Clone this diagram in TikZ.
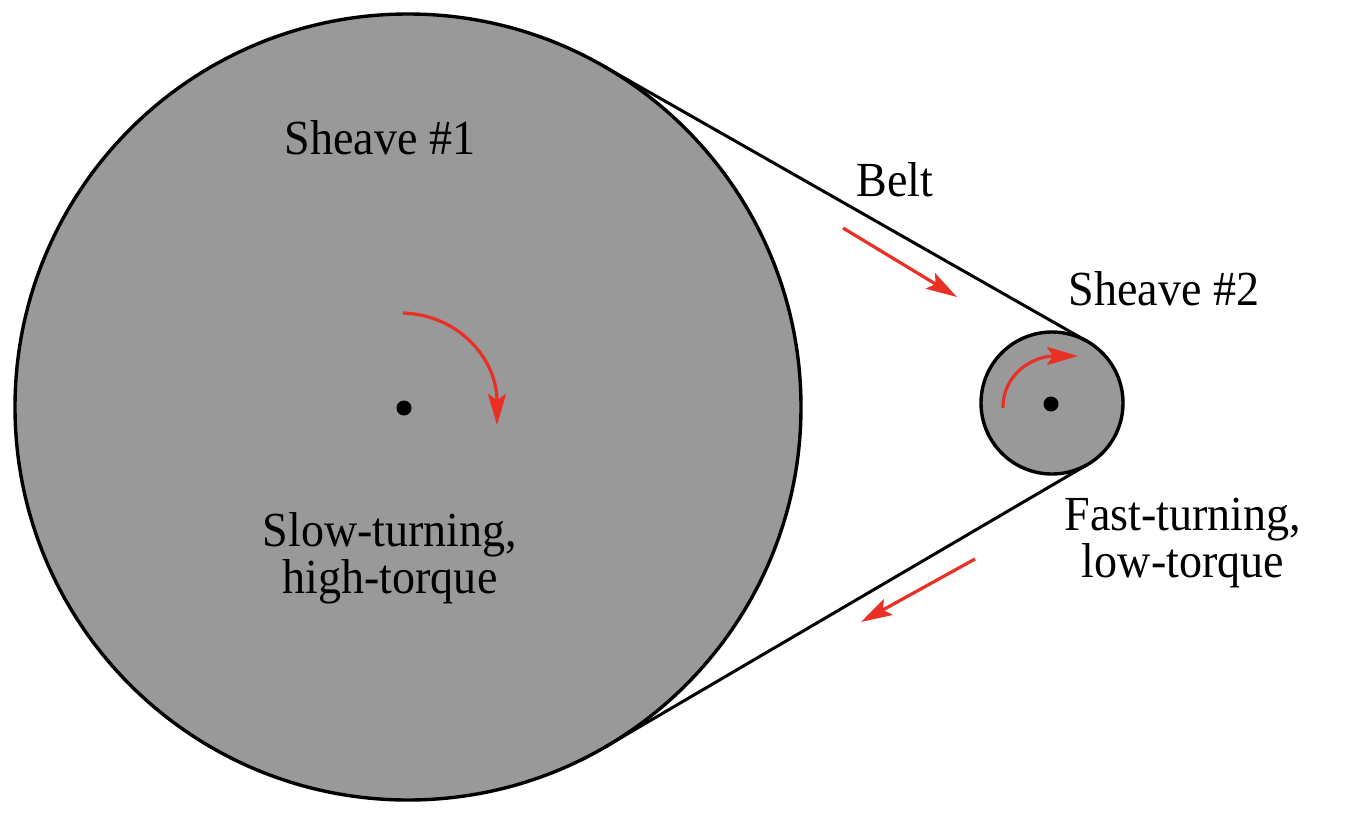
\documentclass[tikz,border=0pt]{standalone}
\usepackage{fontspec}
\setmainfont{Liberation Serif}[FakeStretch=0.94]
\usetikzlibrary{arrows.meta}
\definecolor{sheavegray}{RGB}{153,153,153}
\definecolor{arrowred}{RGB}{232,48,36}
\begin{document}
\begin{tikzpicture}[x=1pt,y=-1pt,
  sheave/.style={circle,draw=black,line width=3.4pt,fill=sheavegray,inner sep=0pt,outer sep=0pt},
  hub/.style={circle,fill=black,inner sep=0pt,minimum size=15pt},
  belt/.style={line width=3pt,black},
  motion/.style={arrowred,line width=3.2pt,-{Stealth[length=31pt,width=18pt,inset=6pt]}},
  lbl/.style={font=\fontsize{49}{47}\selectfont,inner sep=0pt,align=center}]
\useasboundingbox (0,0) rectangle (1350,817);
\fill[white] (0,0) rectangle (1350,817);
% sheaves
\node[sheave,minimum size=786pt] (s1) at (408,407) {};
\node[sheave,minimum size=142pt] (s2) at (1052,403) {};
\node[hub] (h1) at (404,408) {};
\node[hub] (h2) at (1051,404) {};
% belt
\draw[belt] (s1.60) -- (s2.60);
\draw[belt] (s1.-60) -- (s2.-60);
% motion arrows
\coordinate (ua0) at (843,228);
\coordinate (ua1) at (957,297);
\draw[motion] (ua0) -- (ua1);
\coordinate (la0) at (975,559);
\coordinate (la1) at (861,622);
\draw[motion] (la0) -- (la1);
\coordinate (ba0) at (403,313);
\coordinate (ba1) at (497,425);
\draw[motion] (ba0) .. controls (460,315) and (497,360) .. (ba1);
\coordinate (sa0) at (1003,408);
\coordinate (sa1) at (1078,356);
\draw[motion] (sa0) .. controls (1003,372) and (1035,356) .. (sa1);
% labels
\node[lbl,anchor=base] (t1) at (380,154) {Sheave \#1};
\node[lbl,anchor=base] (tb) at (895,196) {Belt};
\node[lbl,anchor=base] (t2) at (1164,305) {Sheave \#2};
\node[lbl,anchor=base] (tf) at (1183,577) {Fast-turning,\\low-torque};
\node[lbl,anchor=base] (ts) at (390,593) {Slow-turning,\\high-torque};
\end{tikzpicture}
\end{document}
